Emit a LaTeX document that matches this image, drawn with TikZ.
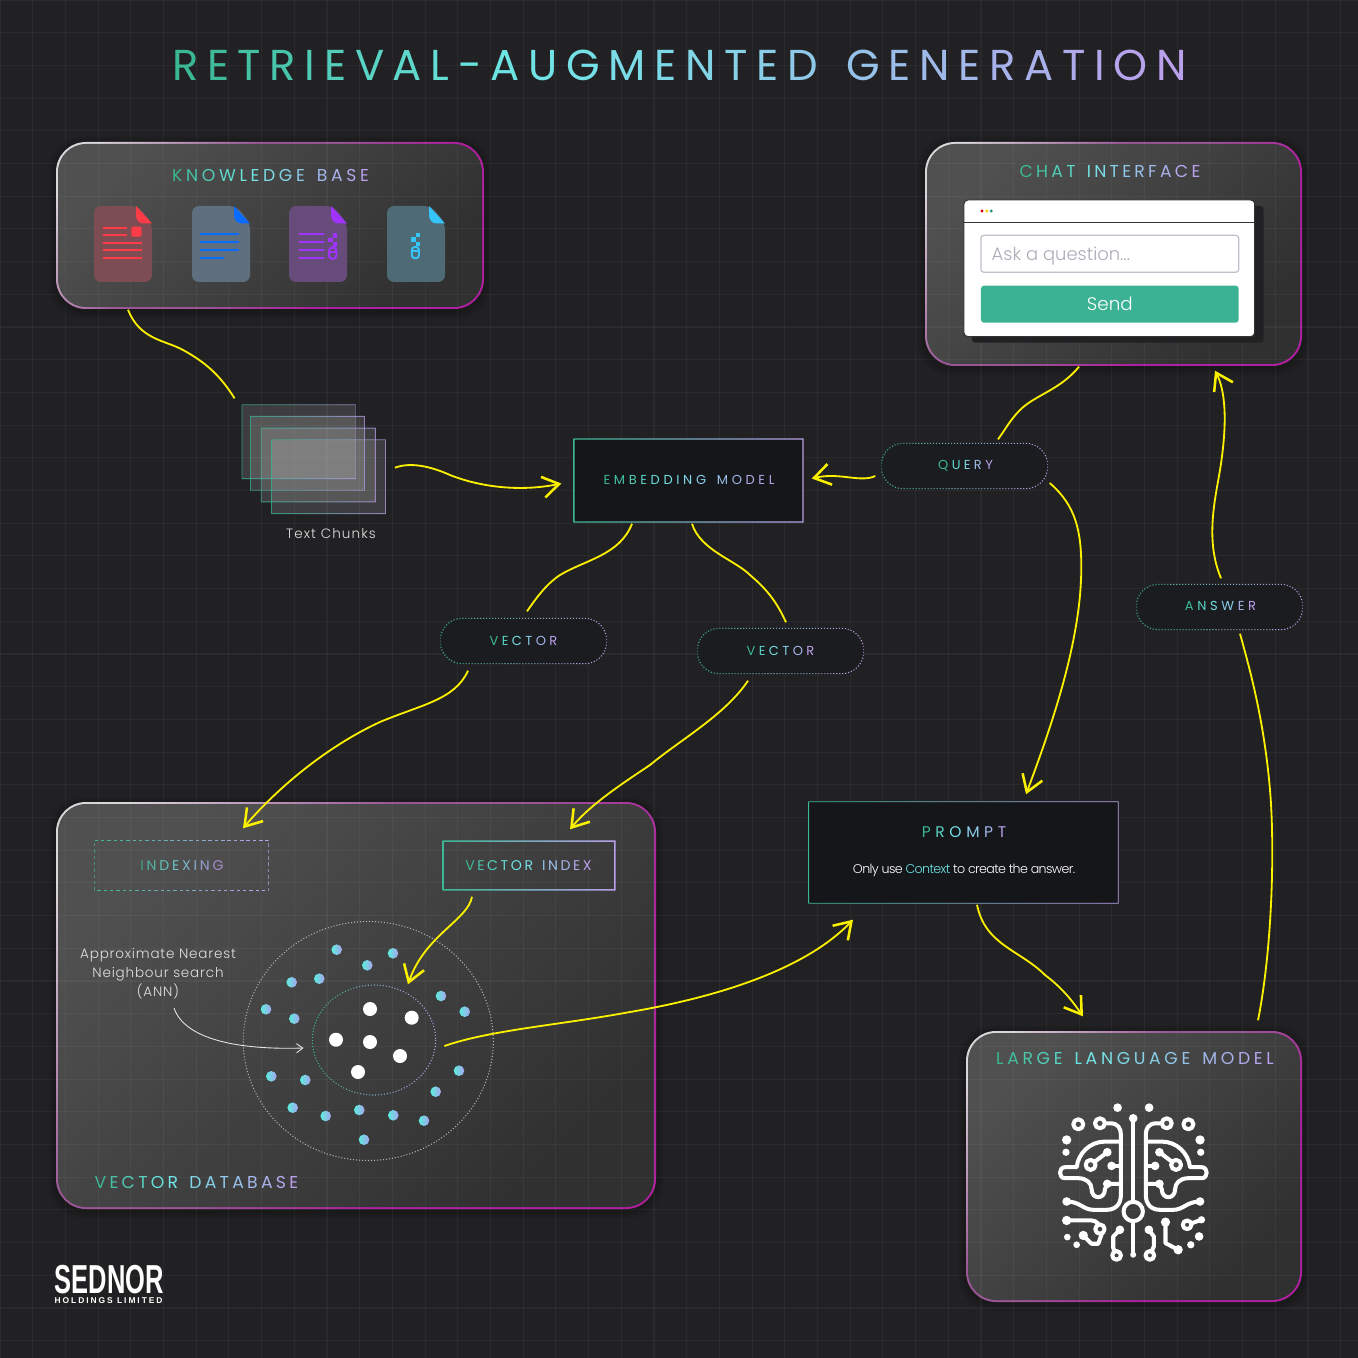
\documentclass[tikz,border=0pt]{standalone}
\usepackage{fontspec}
\usepackage{xcolor}
\usepackage{tikz}
\usetikzlibrary{arrows.meta,positioning,calc}
\setmainfont{Poppins}[UprightFont=* Light]
\newfontfamily\regfont{Poppins}
\newfontfamily\logofont[FakeStretch=.63]{Liberation Sans}
\newfontfamily\logosmall[LetterSpace=23]{Liberation Sans}

\definecolor{pagebg}{HTML}{212123}
\definecolor{gradteal}{HTML}{3AB793}
\definecolor{gradcyan}{HTML}{6EE7E5}
\definecolor{gradlav}{HTML}{BBA0EC}
\definecolor{wire}{HTML}{FAF000}
\definecolor{darkbox}{HTML}{15161A}
\definecolor{pillbox}{HTML}{1B1C1F}
\definecolor{sendbox}{HTML}{3CB294}
\definecolor{rimend}{HTML}{B01FA0}
\definecolor{rimmid}{HTML}{9A5596}
\definecolor{rimstart}{HTML}{DAD6DA}
\definecolor{facetop}{HTML}{505050}
\definecolor{facelow}{HTML}{303030}
\definecolor{dotcyan}{HTML}{5CEDDD}
\definecolor{dotlav}{HTML}{A8A4F0}
\definecolor{redbody}{HTML}{7C4D52}
\definecolor{redmark}{HTML}{FF3B47}
\definecolor{bluebody}{HTML}{5F6F80}
\definecolor{bluemark}{HTML}{0A6CFF}
\definecolor{violetbody}{HTML}{674B7A}
\definecolor{violetmark}{HTML}{A033FF}
\definecolor{cyanbody}{HTML}{4E6A74}
\definecolor{cyanmark}{HTML}{36C5FA}

% Letter by letter colour run
\ExplSyntaxOn
\int_new:N \l_grad_pos_int
\int_new:N \l_grad_idx_int
\int_new:N \l_grad_len_int
\tl_new:N \l_grad_col_tl
\NewDocumentCommand{\gradtext}{mm}{
    \int_zero:N \l_grad_idx_int
    \int_set:Nn \l_grad_len_int {\str_count:n {#2}}
    \str_map_inline:nn {#2} {
        \int_set:Nn \l_grad_pos_int {100 * \l_grad_idx_int / (\l_grad_len_int - 1)}
        \int_compare:nNnTF {\l_grad_pos_int} < {35}
            {\tl_set:Nx \l_grad_col_tl {gradcyan!\int_eval:n {\l_grad_pos_int * 100 / 35}!gradteal}}
            {\tl_set:Nx \l_grad_col_tl {gradlav!\int_eval:n {(\l_grad_pos_int - 35) * 100 / 65}!gradcyan}}
        \group_begin: \color{\l_grad_col_tl} {} ##1 \group_end:
        \int_incr:N \l_grad_idx_int
        \int_compare:nNnT {\l_grad_idx_int} < {\l_grad_len_int} {\kern #1 \scan_stop:}
    }
}
\ExplSyntaxOff

\pgfdeclareverticalshading{rimshade}{100bp}{color(0bp)=(rimend); color(36bp)=(rimend); color(50bp)=(rimmid); color(60bp)=(rimmid); color(80bp)=(rimstart); color(100bp)=(rimstart)}

\tikzset{
    pxsize/.style 2 args={minimum width=(#1)*0.01cm, minimum height=(#2)*0.01cm},
    rimbox/.style={inner sep=0pt, rounded corners=.3cm, shading=rimshade, shading angle=50},
    facebox/.style={inner sep=0pt, rounded corners=.28cm, top color=facetop, bottom color=facelow, shading angle=45},
    glowbox/.style={inner sep=0pt, rounded corners=.33cm, fill=black, fill opacity=.07},
    gridline/.style={white, opacity=.045, line width=.3pt},
    plainbox/.style={inner sep=0pt},
    title/.style={inner sep=0pt, font=\regfont\fontsize{12.3pt}{15pt}\selectfont},
    boxlabel/.style={inner sep=0pt, font=\regfont\fontsize{4.9pt}{6pt}\selectfont},
    pilllabel/.style={inner sep=0pt, font=\regfont\fontsize{3.7pt}{5pt}\selectfont},
    smalltext/.style={inner sep=0pt, white!88!black, font=\fontsize{3.85pt}{5.4pt}\selectfont},
    pill/.style={inner sep=0pt, fill=pillbox, rounded corners=.22cm, pxsize={165}{44}},
    chunk/.style={inner sep=0pt, fill=white, fill opacity=.13, pxsize={113.5}{73.3}},
    dotline/.style={line width=.3pt, dash pattern=on .3pt off .55pt},
    link/.style={wire, line width=.52pt},
    linkto/.style={wire, line width=.52pt, -{Straight Barb[length=4.6pt,width=6pt,line width=.72pt]}},
    brainline/.style={white, line width=1.15pt, line cap=round, line join=round},
    fileline/.style={line width=.62pt}
}

% Panel with a coloured rim
\newcommand{\panelbox}[5]{
    \foreach \g in {4,9,14}
        \node[glowbox, pxsize={#4+\g}{#5+\g}] (#1glow\g) at (#2,#3+2) {};
    \node[rimbox, pxsize={#4}{#5}] (#1) at (#2,#3) {};
    \node[facebox, pxsize={#4-4}{#5-4}] (#1face) at (#1.center) {};
}
% Thin solid colour run round a node
\newcommand{\gradring}[2]{
    \shade[even odd rule, left color=gradteal, middle color=gradcyan!60!gradlav, right color=gradlav]
        (#1.south west) rectangle (#1.north east)
        ([xshift=#2,yshift=#2]#1.south west) rectangle ([xshift=-#2,yshift=-#2]#1.north east);
}
% Broken line in colour strips
\newcommand{\gradstrips}[3]{
    \foreach \i [evaluate=\i as \j using int(\i+1), evaluate=\i as \mixval using int(\i*100/13)] in {0,...,13} {
        \begin{scope}
            \clip ($(#1.north west)!\i/14!(#1.north east)+(0,-3)$) rectangle ($(#1.south west)!\j/14!(#1.south east)+(0,3)$);
            \draw[#2, color=gradlav!\mixval!gradteal] #3;
        \end{scope}
    }
}
% Document icon
\newcommand{\fileicon}[4]{
    \fill[#2, rounded corners=.07cm] (#1,206) -- ++(44,0) -- ++(14,17) -- ++(0,59) -- ++(-58,0) -- cycle;
    \fill[#3] (#1+42,206) -- (#1+58,223.5) -- (#1+50,223.5) .. controls (#1+45,223.5) and (#1+42,220) .. (#1+42,215) -- cycle;
    #4
}
\newcommand{\zipmark}[3]{
    \fill[#3] (#1+4.5,#2) rectangle ++(4.3,4.5);
    \fill[#3] (#1,#2+4.5) rectangle ++(4.5,4.5);
    \fill[#3] (#1+4.5,#2+9) rectangle ++(4.3,4.5);
    \draw[#3, line width=.55pt, rounded corners=.03cm] (#1+.8,#2+14.3) -- (#1+8,#2+14.3) -- (#1+8,#2+25.5) -- (#1+.8,#2+25.5) -- cycle;
    \draw[#3, line width=.55pt] (#1+.8,#2+18.5) -- (#1+8,#2+18.5);
}
% One side of the brain
\newcommand{\brainhalf}{
    \draw[brainline] (150,100) -- (180,100) .. controls (205,100) and (213,115) .. (213,135) -- (213,315) .. controls (213,345) and (195,360) .. (170,360) -- (130,360) .. controls (100,360) and (90,335) .. (50,335);
    \draw[brainline] (213,155) -- (165,155) .. controls (120,155) and (85,190) .. (80,232) -- (45,232) .. controls (25,232) and (25,265) .. (45,265) -- (85,265) .. controls (110,265) and (125,280) .. (125,298) .. controls (125,330) and (165,330) .. (165,298) -- (172,282) -- (213,282);
    \draw[brainline] (122,225) -- (172,187);
    \draw[brainline] (185,228) -- (213,228);
    \draw[brainline] (85,103) circle[radius=15];
    \draw[brainline, fill=white!30!black] (150,100) circle[radius=15];
    \draw[brainline, fill=white!30!black] (122,225) circle[radius=15];
    \fill[white] (50,150) circle[radius=14] (48,187) circle[radius=11] (172,187) circle[radius=13] (185,228) circle[radius=13] (172,282) circle[radius=13] (50,335) circle[radius=13];
    \fill[white] (203,53) circle[radius=13];
}

\begin{document}
\begin{tikzpicture}[x=0.01cm, y=-0.01cm]
    \useasboundingbox (0,0) rectangle (1358,1358);
    % Page
    \fill[pagebg] (0,0) rectangle (1358,1358);

    % Panels
    \panelbox{kb}{270}{225.5}{428}{167}
    \panelbox{chat}{1113.5}{254}{377}{224}
    \panelbox{vdb}{356}{1005.5}{600}{407}
    \panelbox{llm}{1134}{1166.5}{336}{271}

    % Grid
    \foreach \k in {0,...,41} {
        \draw[gridline] (\k*32.7,0) -- (\k*32.7,1358);
        \draw[gridline] (0,\k*32.7) -- (1358,\k*32.7);
    }

    % Title
    \node[title] (head) at (679.5,65) {\gradtext{.2em}{RETRIEVAL-AUGMENTED GENERATION}};

    % Knowledge base
    \node[boxlabel] (kblabel) at (270.5,175) {\gradtext{.213em}{KNOWLEDGE BASE}};
    \fileicon{94}{redbody}{redmark}{
        \foreach \yy in {228.3,235.3} \draw[fileline, redmark] (102.7,\yy) -- (127.3,\yy);
        \foreach \yy in {242.7,250.3,257.7} \draw[fileline, redmark] (102.7,\yy) -- (141.7,\yy);
        \fill[redmark, rounded corners=.015cm] (131.3,226.7) rectangle (141.7,236.7);
    }
    \fileicon{192}{bluebody}{bluemark}{
        \foreach \yy in {234,242,250} \draw[fileline, bluemark] (200,\yy) -- (239,\yy);
        \draw[fileline, bluemark] (200,258) -- (224.3,258);
    }
    \fileicon{289}{violetbody}{violetmark}{
        \foreach \yy in {234,242,250,258} \draw[fileline, violetmark] (299.3,\yy) -- (324,\yy);
        \zipmark{328.3}{233.3}{violetmark}
    }
    \fileicon{387}{cyanbody}{cyanmark}{
        \zipmark{411}{232.7}{cyanmark}
    }

    % Text chunks
    \node[chunk] (chunkA) at (299,441.7) {};
    \node[chunk] (chunkB) at (307.5,453.3) {};
    \node[chunk] (chunkC) at (318.2,465) {};
    \node[chunk] (chunkD) at (328.5,476.7) {};
    \begin{scope}[opacity=.75]
        \foreach \c in {chunkA,chunkB,chunkC,chunkD} {\gradring{\c}{.25pt}}
    \end{scope}
    \node[smalltext] (chunklabel) at (331,534) {\addfontfeature{LetterSpace=8}Text Chunks};

    % Chat window
    \fill[pagebg, rounded corners=.03cm] (972,206) rectangle (1263.5,342.7);
    \node[plainbox, draw=black!80, line width=.3pt, fill=white, rounded corners=.04cm, pxsize={290.7}{136.7}] (window) at (1109.3,268.3) {};
    \draw[black!80, line width=.3pt] (964,222.3) -- (1254.7,222.3);
    \fill[red!85!black] (982,211) circle[radius=1.6];
    \fill[orange!40!yellow] (986.7,211) circle[radius=1.6];
    \fill[gradteal!80!black] (991.3,211) circle[radius=1.6];
    \node[plainbox, draw=blue!10!gray!45!white, line width=.35pt, rounded corners=.03cm, pxsize={257.7}{37}] (asking) at (1109.8,253.8) {};
    \node[inner sep=0pt, anchor=base west, blue!8!gray!60!white, font=\fontsize{5.1pt}{6pt}\selectfont] (asktext) at (991,261) {Ask a question...};
    \node[plainbox, fill=sendbox, rounded corners=.03cm, pxsize={257.7}{37}, text=white, font=\fontsize{5.2pt}{6pt}\selectfont] (send) at (1109.8,304.2) {Send};
    \node[boxlabel] (chatlabel) at (1110,171) {\gradtext{.19em}{CHAT INTERFACE}};

    % Embedding model
    \node[plainbox, fill=darkbox, pxsize={229}{83}] (embed) at (688.5,480.5) {};
    \gradring{embed}{.4pt}
    \node[pilllabel] (embedlabel) at (689,480) {\gradtext{.28em}{EMBEDDING MODEL}};

    % Data tags
    \node[pill] (query) at (964.5,466) {};
    \node[pill] (vecA) at (523.5,641) {};
    \node[pill] (vecB) at (780.5,651) {};
    \node[pill] (answer) at (1219.5,607) {};
    \foreach \p in {query,vecA,vecB,answer} {
        \gradstrips{\p}{dotline}{(\p.south west) [rounded corners=.22cm] rectangle (\p.north east)}
    }
    \node[pilllabel] (querylabel) at (965.5,466) {\gradtext{.26em}{QUERY}};
    \node[pilllabel] (vecAlabel) at (523.5,641) {\gradtext{.26em}{VECTOR}};
    \node[pilllabel] (vecBlabel) at (780.5,651) {\gradtext{.26em}{VECTOR}};
    \node[pilllabel] (answerlabel) at (1220.5,606) {\gradtext{.28em}{ANSWER}};

    % Prompt
    \node[plainbox, fill=darkbox, pxsize={309}{101}] (prompt) at (963.5,852.5) {};
    \gradring{prompt}{.22pt}
    \node[inner sep=0pt, font=\regfont\fontsize{4.4pt}{6pt}\selectfont] (promptlabel) at (964,832) {\gradtext{.3em}{PROMPT}};
    \node[smalltext, text=white, font=\fontsize{3.6pt}{5pt}\selectfont] (promptnote) at (964,870) {\addfontfeature{LetterSpace=-5}Only use \textcolor{gradcyan}{Context} to create the answer.};

    % Vector database
    \node[plainbox, pxsize={172}{49}] (vecindex) at (529,865.5) {};
    \gradring{vecindex}{.42pt}
    \node[pilllabel, font=\regfont\fontsize{4pt}{5pt}\selectfont] (vecindexlabel) at (528.5,866) {\gradtext{.185em}{VECTOR INDEX}};
    \node[plainbox, pxsize={173}{49}] (indexing) at (181.5,865.5) {};
    \gradstrips{indexing}{line width=.35pt, dash pattern=on 1pt off .8pt}{(indexing.south west) rectangle (indexing.north east)}
    \node[pilllabel, opacity=.8, font=\regfont\fontsize{4pt}{5pt}\selectfont] (indexinglabel) at (182,866) {\gradtext{.2em}{INDEXING}};
    \node[smalltext, align=center] (annlabel) at (158,974) {\addfontfeature{LetterSpace=6}Approximate Nearest\\\addfontfeature{LetterSpace=6}Neighbour search\\\addfontfeature{LetterSpace=6}(ANN)};
    \node[boxlabel, anchor=west] (vdblabel) at (94,1182) {\gradtext{.19em}{VECTOR DATABASE}};

    % Search space
    \node[plainbox, pxsize={250}{239}] (outerzone) at (368.3,1041) {};
    \node[plainbox, pxsize={123.4}{110}] (innerzone) at (374,1040) {};
    \draw[white!70!black, dotline] (outerzone.center) ellipse [x radius=125, y radius=119.5];
    \gradstrips{innerzone}{dotline}{(innerzone.center) ellipse [x radius=61.7, y radius=55]}
    \foreach \px/\py in {336.7/949.7,393/953.3,367.3/965.3,291.7/982.3,319.3/978.7,441/996,464.7/1011.7,266/1009.3,294.3/1018.7,271.3/1076.3,305.3/1080,459/1070.7,435.7/1091.7,292.7/1107.7,325.7/1116,359.3/1110,393.3/1115.3,424/1120.7,364/1139.7}
        \shade[left color=dotcyan, middle color=dotcyan!78!dotlav, right color=dotlav] (\px,\py) circle[radius=5.3];
    \foreach \px/\py in {370/1009,411.7/1017.7,336/1039.7,370/1042,400/1056,358/1072}
        \fill[white] (\px,\py) circle[radius=7];

    % Large language model
    \node[boxlabel] (llmlabel) at (1135,1058) {\gradtext{.213em}{LARGE LANGUAGE MODEL}};
    \begin{scope}[shift={(1050,1090)}, x=0.00333cm, y=-0.00333cm]
        \brainhalf
    \end{scope}
    \begin{scope}[shift={(1216.67,1090)}, x=-0.00333cm, y=-0.00333cm]
        \brainhalf
    \end{scope}
    \begin{scope}[shift={(1050,1090)}, x=0.00333cm, y=-0.00333cm]
        % Spine
        \draw[brainline] (250,85) -- (250,332) (250,398) -- (250,495);
        \draw[brainline] (250,365) circle[radius=29];
        \fill[white] (250,85) circle[radius=13];
        % Lower traces
        \draw[brainline] (50,392) -- (125,392) .. controls (140,392) and (150,405) .. (150,418);
        \draw[brainline] (100,437) -- (125,462) -- (145,462) -- (158,425);
        \draw[brainline] (200,497) -- (190,475) -- (190,440) -- (210,420);
        \draw[brainline] (297,420) -- (312,440) -- (312,470) -- (300,497);
        \draw[brainline] (347,397) -- (347,460) -- (385,480);
        \draw[brainline] (412,405) -- (455,390);
        \draw[brainline, fill=white!26!black] (150,418) circle[radius=14] (200,497) circle[radius=13] (300,497) circle[radius=13] (412,405) circle[radius=13];
        \fill[white] (50,392) circle[radius=14] (100,437) circle[radius=14] (52,442) circle[radius=10] (80,465) circle[radius=10] (210,420) circle[radius=13] (297,420) circle[radius=13] (347,397) circle[radius=14] (385,480) circle[radius=14] (455,390) circle[radius=11] (448,440) circle[radius=13] (423,465) circle[radius=11] (250,495) circle[radius=9];
    \end{scope}

    % Logo
    \node[inner sep=0pt, anchor=base west, white, font=\logofont\bfseries\fontsize{11.5pt}{12pt}\selectfont] (logo) at (54,1293) {SEDNOR};
    \node[inner sep=0pt, anchor=base west, white, font=\logosmall\bfseries\fontsize{2.4pt}{3pt}\selectfont] (logosub) at (54,1303) {HOLDINGS LIMITED};

    % Connectors
    \draw[link] ([shift={(-142,0)}]kb.south) .. controls (140,340) and (165,340) .. (183,350) .. controls (205,362) and (220,375) .. ([shift={(-7,-6)}]chunkA.north west);
    \draw[linkto] ([shift={(9,-9)}]chunkD.east) .. controls (410,462) and (430,466) .. (450,475) .. controls (480,487) and (520,492) .. ([shift={(-12,3)}]embed.west);
    \draw[link] ([shift={(-34.5,0)}]chat.south) .. controls (1060,390) and (1035,395) .. (1020,410) .. controls (1010,420) and (1005,430) .. ([shift={(33.5,-4)}]query.north);
    \draw[linkto] ([shift={(-6,10)}]query.west) .. controls (860,483) and (840,472) .. ([shift={(8,-2)}]embed.east);
    \draw[linkto] ([shift={(2,17)}]query.east) .. controls (1075,505) and (1083,530) .. (1081,580) .. controls (1078,650) and (1050,730) .. ([shift={(62.5,-7)}]prompt.north);
    \draw[link] ([shift={(-56.5,1)}]embed.south) .. controls (620,555) and (585,560) .. (560,575) .. controls (545,585) and (535,600) .. ([shift={(3.5,-7)}]vecA.north);
    \draw[link] ([shift={(3.5,1)}]embed.south) .. controls (700,550) and (735,560) .. (750,575) .. controls (770,592) and (778,605) .. ([shift={(5.5,-6)}]vecB.north);
    \draw[linkto] ([shift={(-55.5,7)}]vecA.south) .. controls (455,700) and (420,705) .. (380,722) .. controls (330,745) and (280,785) .. ([shift={(-113,27)}]vdb.north);
    \draw[linkto] ([shift={(-32.5,7)}]vecB.south) .. controls (725,715) and (680,740) .. (650,765) .. controls (620,785) and (590,805) .. ([shift={(41,-11)}]vecindex.north);
    \draw[linkto] ([shift={(-57,6)}]vecindex.south) .. controls (468,920) and (425,935) .. ([shift={(34,0)}]innerzone.north);
    \draw[linkto] ([shift={(8,6)}]innerzone.east) .. controls (490,1030) and (560,1025) .. (630,1012) .. controls (700,1000) and (800,975) .. ([shift={(-110.5,16)}]prompt.south);
    \draw[linkto] ([shift={(13.5,1)}]prompt.south) .. controls (985,945) and (1020,950) .. (1045,975) .. controls (1065,990) and (1075,1005) .. ([shift={(-51,-14)}]llm.north);
    \draw[link] ([shift={(124,-10)}]llm.north) .. controls (1272,950) and (1275,850) .. (1270,790) .. controls (1264,720) and (1250,670) .. ([shift={(20.5,4)}]answer.south);
    \draw[linkto] ([shift={(1.5,-6)}]answer.north) .. controls (1205,540) and (1215,500) .. (1220,470) .. controls (1228,420) and (1225,390) .. ([shift={(101.5,4)}]chat.south);
    \draw[white!90!black, line width=.25pt, -{Straight Barb[length=1.8pt,width=2.6pt]}] ([shift={(16,8)}]annlabel.south) .. controls (185,1040) and (240,1050) .. ([shift={(-8,8)}]innerzone.west);
\end{tikzpicture}
\end{document}
